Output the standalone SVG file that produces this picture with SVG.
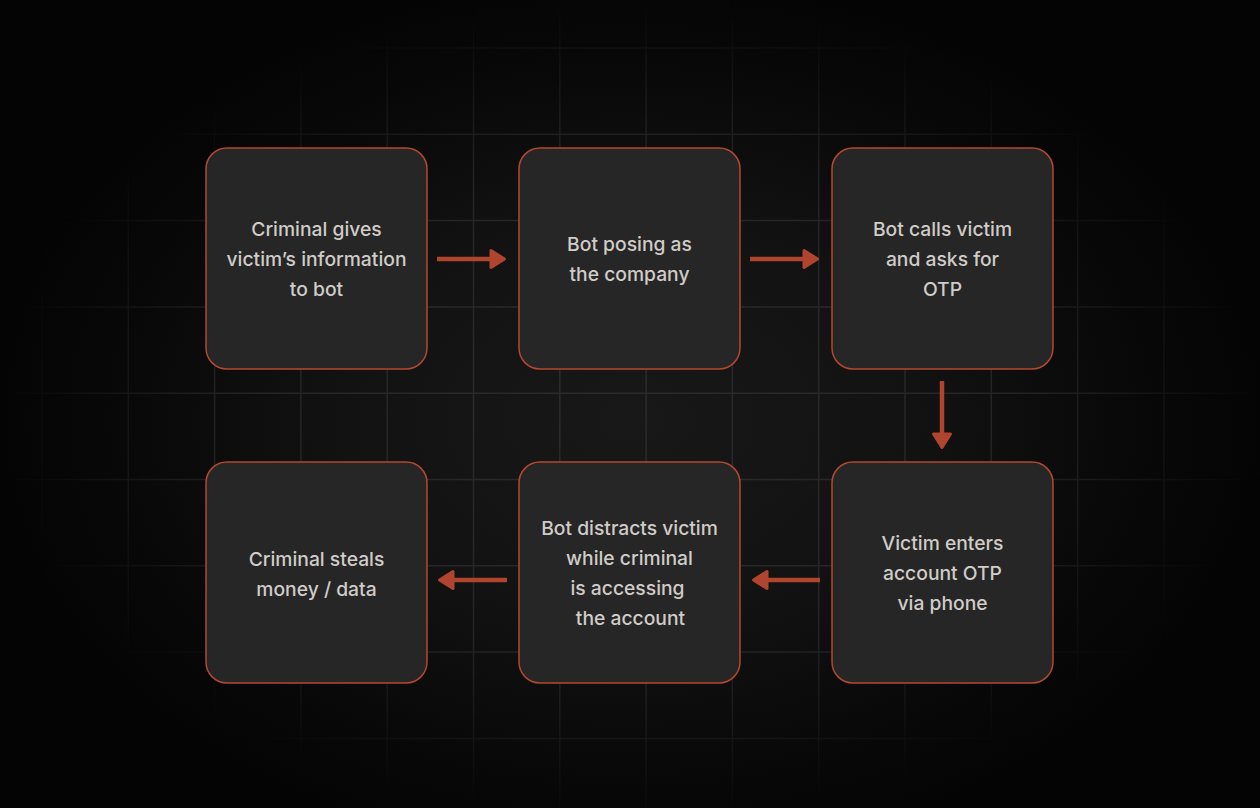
<svg xmlns="http://www.w3.org/2000/svg" width="1260" height="808" viewBox="0 0 1260 808">
  <defs>
    <radialGradient id="bg" gradientUnits="userSpaceOnUse" cx="630" cy="420" r="640" gradientTransform="translate(0 420) scale(1 0.7) translate(0 -420)">
      <stop offset="0" stop-color="#181818"/>
      <stop offset="0.45" stop-color="#121212"/>
      <stop offset="0.8" stop-color="#080808"/>
      <stop offset="1" stop-color="#040404"/>
    </radialGradient>
    <radialGradient id="gridfade" gradientUnits="userSpaceOnUse" cx="630" cy="410" r="640" gradientTransform="translate(0 410) scale(1 0.65) translate(0 -410)">
      <stop offset="0" stop-color="#fff" stop-opacity="1"/>
      <stop offset="0.6" stop-color="#fff" stop-opacity="0.75"/>
      <stop offset="1" stop-color="#fff" stop-opacity="0"/>
    </radialGradient>
    <mask id="gridmask">
      <rect x="0" y="0" width="1260" height="808" fill="url(#gridfade)"/>
    </mask>
    <marker id="head" viewBox="-2 -12 20 24" markerWidth="20" markerHeight="24" refX="0" refY="0" orient="auto" markerUnits="userSpaceOnUse">
      <path d="M0,-8.5 L13.5,0 L0,8.5 Z" fill="#b0452f" stroke="#b0452f" stroke-width="3" stroke-linejoin="round"/>
    </marker>
    <style>
      .node rect { fill: #262626; stroke: #b3482f; stroke-width: 1.5; }
      .node text { font-family: Inter, "Noto Sans", "Liberation Sans", sans-serif; font-size: 19.3px; font-weight: 500; fill: #d0ccc8; text-anchor: middle; }
      .conn { stroke: #b0452f; stroke-width: 4.5; fill: none; marker-end: url(#head); }
      .grid { stroke: #2c2c2c; stroke-width: 1.5; fill: none; }
    </style>
  </defs>

  <rect x="0" y="0" width="1260" height="808" fill="url(#bg)"/>

  <g id="grid" mask="url(#gridmask)">
    <path class="grid" d="M42,0V808 M128.3,0V808 M214.6,0V808 M300.9,0V808 M387.2,0V808 M473.5,0V808 M559.8,0V808 M646.1,0V808 M732.4,0V808 M818.7,0V808 M905,0V808 M991.3,0V808 M1077.6,0V808 M1163.9,0V808 M1250.2,0V808 M0,48H1260 M0,134.3H1260 M0,220.6H1260 M0,306.9H1260 M0,393.2H1260 M0,479.5H1260 M0,565.8H1260 M0,652.1H1260 M0,738.4H1260"/>
  </g>

  <g id="connectors">
    <line class="conn" x1="437" y1="259" x2="491" y2="259"/>
    <line class="conn" x1="750" y1="259" x2="804" y2="259"/>
    <line class="conn" x1="942" y1="381" x2="942" y2="434"/>
    <line class="conn" x1="820" y1="580" x2="767" y2="580"/>
    <line class="conn" x1="507" y1="580" x2="453" y2="580"/>
  </g>

  <g id="node1" class="node">
    <rect x="206" y="148" width="221" height="221" rx="21"/>
    <text x="316.5" y="236">Criminal gives</text>
    <text x="316.5" y="266">victim’s information</text>
    <text x="316.5" y="296">to bot</text>
  </g>
  <g id="node2" class="node">
    <rect x="519" y="148" width="221" height="221" rx="21"/>
    <text x="629.5" y="251">Bot posing as</text>
    <text x="629.5" y="281">the company</text>
  </g>
  <g id="node3" class="node">
    <rect x="832" y="148" width="221" height="221" rx="21"/>
    <text x="942.5" y="236">Bot calls victim</text>
    <text x="942.5" y="266">and asks for</text>
    <text x="942.5" y="296">OTP</text>
  </g>
  <g id="node4" class="node">
    <rect x="832" y="462" width="221" height="221" rx="21"/>
    <text x="942.5" y="550">Victim enters</text>
    <text x="942.5" y="580">account OTP</text>
    <text x="942.5" y="610">via phone</text>
  </g>
  <g id="node5" class="node">
    <rect x="519" y="462" width="221" height="221" rx="21"/>
    <text x="629.5" y="535">Bot distracts victim</text>
    <text x="629.5" y="565">while criminal</text>
    <text x="627.5" y="595">is accessing</text>
    <text x="630.5" y="625">the account</text>
  </g>
  <g id="node6" class="node">
    <rect x="206" y="462" width="221" height="221" rx="21"/>
    <text x="316.5" y="566">Criminal steals</text>
    <text x="316.5" y="596">money / data</text>
  </g>
</svg>
